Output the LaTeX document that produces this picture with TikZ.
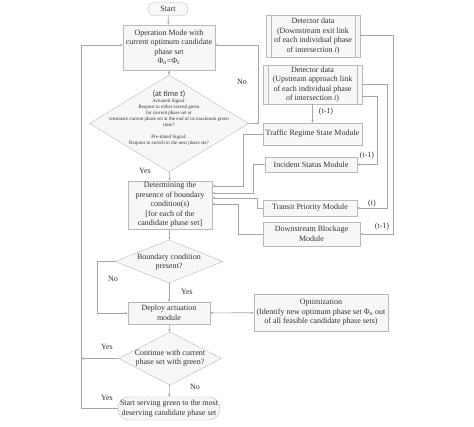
\documentclass[tikz,border=0pt]{standalone}
\usepackage{fontspec}
\setmainfont{Liberation Serif}
\newfontfamily\calib{Carlito}
\usepackage{tikz}
\usetikzlibrary{arrows.meta,shapes,positioning}

\begin{document}
\begin{tikzpicture}[x=1pt,y=-1pt,>={Stealth[length=3pt,width=2.4pt]},
  every node/.style={text=black!80,font=\fontsize{8}{9.5}\selectfont},
  box/.style={draw=gray!55,fill=gray!6,inner sep=0pt,align=center},
  dia/.style={shape=diamond,draw=gray!55,fill=gray!6,inner sep=0pt},
  term/.style={box,rounded corners=6.5pt},
  line/.style={draw=gray!70,line width=0.6pt,->}]
\useasboundingbox (0,0) rectangle (474,426);

% main column
\node[term,minimum width=40pt,minimum height=13pt] (st) at (168,9) {Start};
\node[box,minimum width=92pt,minimum height=45pt] (op) at (169,47.5)
  {Operation Mode with\\current optimum candidate\\phase set\\Φ\textsubscript{o}=Φ\textsubscript{c}};
\node[dia,minimum width=159pt,minimum height=97pt] (bigdia) at (169,123.5) {};
\node[inner sep=0.5pt] (bigdiat) at (169,94.5) {\calib\fontsize{8}{9}\selectfont (at time \textit{t})};
\node[align=center,inner sep=0.5pt,font=\fontsize{5}{6}\selectfont] (bigdiab) at (169,122.5)
  {Actuated Signal:\\Request to either extend green\\for current phase set or\\
   terminate current phase set at the end of its maximum green\\time?\\[6pt]
   Pre-timed Signal:\\Request to switch to the next phase set?};
\node[box,minimum width=84pt,minimum height=48pt] (dt) at (170,205)
  {Determining the\\presence of boundary\\condition(s)\\{[}for each of the\\candidate phase set{]}};
\node[dia,minimum width=108pt,minimum height=43pt] (bdia) at (169,261.5) {};
\node[align=center] (bdiat) at (169,262) {Boundary condition\\present?};
\node[box,minimum width=82pt,minimum height=22pt] (deploy) at (169,313) {Deploy actuation\\module};
\node[dia,minimum width=103pt,minimum height=53pt] (cdia) at (170,358.5) {};
\node[align=center] (cdiat) at (170,358) {Continue with current\\phase set with green?};
\node[term,rounded corners=11pt,minimum width=102pt,minimum height=23pt] (serve) at (169,408.5)
  {Start serving green to the most\\deserving candidate phase set};

% modules
\node[box,minimum width=94pt,minimum height=42pt] (det1) at (313,36)
  {Detector data\\(Downstream exit link\\of each individual phase\\of intersection \textit{i})};
\node[box,minimum width=99pt,minimum height=39pt] (det2) at (312.5,84.5)
  {Detector data\\(Upstream approach link\\of each individual phase\\of intersection \textit{i})};
\foreach \d in {det1,det2}
  \draw[gray!55] ([xshift=5pt]\d.north west) -- ([xshift=5pt]\d.south west)
    ([xshift=-5pt]\d.north east) -- ([xshift=-5pt]\d.south east);
\node[box,minimum width=99pt,minimum height=22pt] (traffic) at (312.5,134) {Traffic Regime State Module};
\node[box,minimum width=92pt,minimum height=15pt] (incident) at (311,164.5) {Incident Status Module};
\node[box,minimum width=94pt,minimum height=16pt] (transit) at (310,208) {Transit Priority Module};
\node[box,minimum width=97pt,minimum height=24pt] (block) at (311.5,234) {Downstream Blockage\\Module};
\node[box,minimum width=134pt,minimum height=37pt] (opt) at (321,312.5)
  {Optimization\\(Identify new optimum phase set Φ\textsubscript{o} out\\of all feasible candidate phase sets)};

% connectors
\coordinate (lp) at (81,408.5);
\draw[line] (st) -- (op);
\draw[line] (op) -- (bigdia);
\draw[line] (bigdia) -- (dt);
\draw[line] (bigdia.east) -- ++(10,0) |- ([yshift=2.5pt]op.east);
\draw[line] (det2) -- (traffic);
\draw[line] ([yshift=1pt]det1.east) -- ++(33,0) |- (block.east);
\draw[line] (det2.east) -- ++(25,0) |- (transit.east);
\draw[line] ([yshift=-11.5pt]det2.east) -- ++(15,0) |- (incident.east);
\draw[line] (traffic.west) -- ++(-20,0) |- ([yshift=19pt]dt.east);
\draw[line] (incident.west) -- ++(-12,0) |- ([yshift=12pt]dt.east);
\draw[line] (transit.west) -- ++(-6,0) |- ([yshift=7pt]dt.east);
\draw[line] (block.west) -- ++(-25,0) |- ([yshift=1pt]dt.east);
\draw[line] (dt) -- (bdia);
\draw[line] (bdia.west) -- ++(-18,0) |- (deploy.west);
\draw[line] (bdia) -- (deploy);
\draw[line,<->] (deploy) -- (opt);
\draw[line] (deploy) -- (cdia);
\draw[line] (cdia) -- (serve);
\draw[line] (cdia.west) -- (cdia.west -| lp);
\draw[line] (serve.west) -- (lp) |- ([yshift=2.5pt]op.west);

% labels
\node (no1) at (242,82) {No};
\node (yes1) at (145,171) {Yes};
\node (t1) at (326,112) {(t-1)};
\node (t2) at (367,156) {(t-1)};
\node (t3) at (372,204) {(t)};
\node (t4) at (382,227) {(t-1)};
\node (no2) at (113,279) {No};
\node (yes2) at (187,292) {Yes};
\node (yes3) at (107,347) {Yes};
\node (no3) at (195,387) {No};
\node (yes4) at (107,398) {Yes};
\end{tikzpicture}
\end{document}
